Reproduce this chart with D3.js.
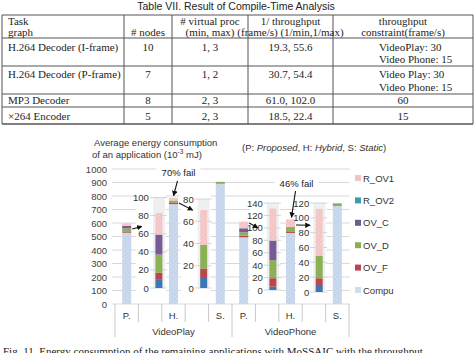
<!DOCTYPE html>
<html>
<head>
<meta charset="utf-8">
<script src="https://cdn.jsdelivr.net/npm/d3@7"></script>
<style>
  body { margin: 0; background: #fff; }
  svg { display: block; }
</style>
</head>
<body>
<svg id="fig" width="474" height="353"></svg>
<script>
// ---- table data ----
const tableTitle = "Table VII. Result of Compile-Time Analysis";
const tableHead = [["Task", "graph"], ["", "# nodes"], ["# virtual proc", "(min, max)"],
                   ["1/ throughput", "(frame/s) (1/min,1/max)"], ["throughput", "constraint(frame/s)"]];
const taskGraphs = ["H.264 Decoder (I-frame)", "H.264 Decoder (P-frame)", "MP3 Decoder", "\u00d7264 Encoder"];
const nodeCounts = ["10", "7", "8", "5"];
const virtualProcs = ["1, 3", "1, 2", "2, 3", "2, 3"];
const invThroughput = ["19.3, 55.6", "30.7, 54.4", "61.0, 102.0", "18.5, 22.4"];
const constraints = [["VideoPlay: 30", "Video Phone: 15"], ["Video Play: 30", "Video Phone: 15"], ["60"], ["15"]];

// ---- chart data ----
const apps = ["VideoPlay", "VideoPhone"];
const slots = ["P.", "", "H.", "", "S.", "P.", "", "H.", "", "S."];
const seriesKeys = ["Compu", "OV_F", "OV_D", "OV_C", "R_OV2", "R_OV1"];
const legendKeys = ["R_OV1", "R_OV2", "OV_C", "OV_D", "OV_F", "Compu"];
const yTicks = d3.range(0, 1001, 100);

// main bars (P., H., S. of each application)
const barSlots = [0, 2, 4, 5, 7, 9];
const compu = [528, 740, 890, 494, 526, 726];
const ovF   = [10, 12, 0, 12, 7, 0];
const ovD   = [23, 15, 15, 25, 37, 20];
const ovC   = [19, 0, 0, 30, 0, 0];
const rOv2  = [0, 0, 0, 0, 0, 0];
const rOv1  = [18, 20, 0, 49, 57, 0];

// zoomed overhead insets
const insetSlots = [1, 3, 6, 8];
const insetMax   = [100, 80, 140, 120];
const insetROv2  = [9, 9, 5.5, 9.5];
const insetOvF   = [8, 8.5, 13.5, 9];
const insetOvD   = [20, 21.5, 29, 30];
const insetOvC   = [22, 0, 31.5, 0];
const insetROv1  = [24, 31, 51.5, 63.5];

// annotations
const failLabels = ["70% fail", "46% fail"];
const failSlots = [2, 7];
const arrowFromBar = [0, 1, 3, 4];          // index into main bars
const arrowFromVal = [556, 748, 600, 585];  // main scale
const arrowToVal   = [68, 70, 100, 90];     // inset scale

const colors = {
  Compu: "url(#hBlue)", OV_F: "#b9474b", OV_D: "#8cb055", OV_C: "#765b97",
  R_OV2: "#3d75b6", R_OV1: "url(#hPink)"
};
const legendColors = {
  R_OV1: "#f1c3c3", R_OV2: "#37a0a6", OV_C: "#6f5a92", OV_D: "#8cad56", OV_F: "#b8474b", Compu: "#cfdcec"
};

const svg = d3.select("#fig");
const defs = svg.append("defs");

function hatch(id, base, line) {
  const p = defs.append("pattern").attr("id", id)
    .attr("width", 3).attr("height", 3)
    .attr("patternUnits", "userSpaceOnUse")
    .attr("patternTransform", "rotate(45)");
  p.append("rect").attr("width", 3).attr("height", 3).attr("fill", base);
  p.append("line").attr("x1", 0).attr("y1", 0).attr("x2", 0).attr("y2", 3)
    .attr("stroke", line).attr("stroke-width", 1);
}
hatch("hBlue", "#c4d4ea", "#dde6f3");
hatch("hPink", "#f3c3c3", "#fbdede");

defs.append("marker").attr("id", "arr")
  .attr("viewBox", "0 0 10 10").attr("refX", 9).attr("refY", 5)
  .attr("markerWidth", 5).attr("markerHeight", 5).attr("orient", "auto")
  .append("path").attr("d", "M0,0L10,5L0,10z").attr("fill", "#111");

// ================= table =================
const colX = [2, 124, 172, 248, 333, 473];
const rowY = [15, 38, 66, 94, 107, 124];
const sans = '"Liberation Sans", Arial, sans-serif';

svg.append("text").attr("x", 236).attr("y", 10)
  .attr("text-anchor", "middle").attr("font-family", sans)
  .attr("font-size", 10.5).attr("fill", "#222").text(tableTitle);

const tbl = svg.append("g")
  .attr("font-family", '"Liberation Serif", "Times New Roman", serif')
  .attr("font-size", 11).attr("fill", "#1e1e1e");

tbl.selectAll("line.h").data(rowY).join("line")
  .attr("x1", colX[0]).attr("x2", colX[5])
  .attr("y1", d => d).attr("y2", d => d)
  .attr("stroke", "#555").attr("stroke-width", (d, i) => i === rowY.length - 1 ? 1.5 : 1);
tbl.selectAll("line.v").data(colX).join("line")
  .attr("x1", d => d).attr("x2", d => d)
  .attr("y1", rowY[0]).attr("y2", rowY[rowY.length - 1])
  .attr("stroke", "#555");

const colMid = d3.range(5).map(i => (colX[i] + colX[i + 1]) / 2);
tableHead.forEach((lines, c) => {
  lines.forEach((t, k) => {
    tbl.append("text")
      .attr("x", c === 0 ? 8 : colMid[c])
      .attr("y", 25 + k * 11)
      .attr("text-anchor", c === 0 ? "start" : "middle")
      .text(t);
  });
});

const rowBase = [[51, 63], [78, 91], [104], [120]];
taskGraphs.forEach((t, r) => {
  const b = rowBase[r][0];
  tbl.append("text").attr("x", 8).attr("y", b).text(t);
  tbl.append("text").attr("x", colMid[1]).attr("y", b).attr("text-anchor", "middle").text(nodeCounts[r]);
  tbl.append("text").attr("x", colMid[2]).attr("y", b).attr("text-anchor", "middle").text(virtualProcs[r]);
  tbl.append("text").attr("x", colMid[3]).attr("y", b).attr("text-anchor", "middle").text(invThroughput[r]);
  constraints[r].forEach((c, k) => {
    const multi = constraints[r].length > 1;
    tbl.append("text")
      .attr("x", multi ? 379 : colMid[4])
      .attr("y", rowBase[r][k])
      .attr("text-anchor", multi ? "start" : "middle")
      .text(c);
  });
});

// ================= chart =================
const x = d3.scaleBand().domain(d3.range(slots.length)).range([115, 349]);
const y = d3.scaleLinear().domain([0, 1000]).range([304, 169]);
const barW = 9;
const chart = svg.append("g").attr("font-family", sans);

// titles
chart.append("text").attr("x", 94).attr("y", 146)
  .attr("font-size", 9.5).attr("fill", "#333").text("Average energy consumption");
const t2 = chart.append("text").attr("x", 92).attr("y", 158)
  .attr("font-size", 9.5).attr("fill", "#333");
t2.append("tspan").text("of an application (10");
t2.append("tspan").attr("dy", -4).attr("font-size", 6.5).text("-3");
t2.append("tspan").attr("dy", 4).text(" mJ)");

const sub = chart.append("text").attr("x", 242).attr("y", 151)
  .attr("font-size", 9.5).attr("fill", "#333");
[["(P: ", false], ["Proposed", true], [", H: ", false], ["Hybrid", true],
 [", S: ", false], ["Static", true], [")", false]].forEach(([s, it]) => {
  sub.append("tspan").attr("font-style", it ? "italic" : "normal").text(s);
});

// gridlines
chart.append("g").selectAll("line").data(yTicks).join("line")
  .attr("x1", 112).attr("x2", 350)
  .attr("y1", d => y(d)).attr("y2", d => y(d))
  .attr("stroke", "#d9d9d9");

// y axis labels
const yAxis = chart.append("g").attr("transform", "translate(109,0)")
  .call(d3.axisLeft(y).tickValues(yTicks).tickFormat(d3.format("d")).tickSize(0).tickPadding(2));
yAxis.select(".domain").remove();
yAxis.selectAll("text").attr("font-size", 9.5).attr("fill", "#404040").attr("font-family", sans);

// category axis
const step = x.step();
chart.append("g").selectAll("line").data(d3.range(slots.length + 1)).join("line")
  .attr("x1", i => 115 + i * step).attr("x2", i => 115 + i * step)
  .attr("y1", 304).attr("y2", i => i % 5 === 0 ? 337 : 322)
  .attr("stroke", "#c8c8c8");
chart.append("g").selectAll("text").data(slots).join("text")
  .attr("x", (d, i) => x(i) + x.bandwidth() / 2).attr("y", 319)
  .attr("text-anchor", "middle").attr("font-size", 9.5).attr("fill", "#333")
  .text(d => d);
chart.append("g").selectAll("text").data(apps).join("text")
  .attr("x", (d, i) => x(i * 5) + step * 2.5).attr("y", 335)
  .attr("text-anchor", "middle").attr("font-size", 9.5).attr("fill", "#333")
  .text(d => d);

// stacked main bars
const mainRows = barSlots.map((s, i) => ({
  slot: s, Compu: compu[i], OV_F: ovF[i], OV_D: ovD[i], OV_C: ovC[i], R_OV2: rOv2[i], R_OV1: rOv1[i]
}));
const mainStack = d3.stack().keys(seriesKeys)(mainRows);
const barX = s => x(s) + (x.bandwidth() - barW) / 2;
chart.append("g").selectAll("g").data(mainStack).join("g")
  .attr("fill", d => colors[d.key])
  .selectAll("rect").data(d => d).join("rect")
  .attr("x", d => barX(d.data.slot)).attr("width", barW)
  .attr("y", d => y(d[1])).attr("height", d => y(d[0]) - y(d[1]));

// insets
const insetKeys = ["R_OV2", "OV_F", "OV_D", "OV_C", "R_OV1"];
const insetTopY = [197.5, 199, 203, 203];
const insetBotY = [288, 288, 290, 292];
const insetOffset = [14.5, 12.5, 11.5, 11];
const insetW = 12, insetBarW = 7;
const insetScales = [];
insetSlots.forEach((s, j) => {
  const g = chart.append("g");
  const x0 = x(s) + insetOffset[j];
  const yi = d3.scaleLinear().domain([0, insetMax[j]]).range([insetBotY[j], insetTopY[j]]);
  insetScales.push({ x0, yi });
  const ticks = d3.range(0, insetMax[j] + 1, 20);
  g.append("rect").attr("x", x0 - 17).attr("y", insetTopY[j] - 6)
    .attr("width", insetW + 18).attr("height", insetBotY[j] - insetTopY[j] + 12)
    .attr("fill", "#fff");
  g.append("rect").attr("x", x0).attr("y", insetTopY[j])
    .attr("width", insetW).attr("height", insetBotY[j] - insetTopY[j])
    .attr("fill", "#efefef");
  g.selectAll("line").data(ticks).join("line")
    .attr("x1", x0 - 3).attr("x2", x0 + insetW + 2)
    .attr("y1", d => yi(d)).attr("y2", d => yi(d))
    .attr("stroke", "#d4d4d4");
  g.selectAll("text").data(ticks).join("text")
    .attr("x", x0 - 4).attr("y", d => yi(d) + 3.5)
    .attr("text-anchor", "end").attr("font-size", 9.5).attr("fill", "#333")
    .text(d => d);
  const row = { R_OV2: insetROv2[j], OV_F: insetOvF[j], OV_D: insetOvD[j], OV_C: insetOvC[j], R_OV1: insetROv1[j] };
  const st = d3.stack().keys(insetKeys)([row]);
  g.selectAll("rect.seg").data(st).join("rect").attr("class", "seg")
    .attr("fill", d => colors[d.key])
    .attr("x", x0 + (insetW - insetBarW) / 2).attr("width", insetBarW)
    .attr("y", d => yi(d[0][1])).attr("height", d => yi(d[0][0]) - yi(d[0][1]));
});

// arrows from main bars to insets
const arrowEndDx = [-11, -5, -9, -3];
arrowFromBar.forEach((b, k) => {
  const s = barSlots[b];
  const { x0, yi } = insetScales[k];
  chart.append("line")
    .attr("x1", barX(s) + barW + 1).attr("y1", y(arrowFromVal[k]))
    .attr("x2", x0 + arrowEndDx[k]).attr("y2", yi(arrowToVal[k]))
    .attr("stroke", "#111").attr("stroke-width", 1.1).attr("marker-end", "url(#arr)");
});

// fail labels
const failVal = [972, 896];
const failDx = [5, 6];
failLabels.forEach((t, k) => {
  const s = failSlots[k];
  const cx = x(s) + x.bandwidth() / 2 + failDx[k];
  const cy = y(failVal[k]);
  chart.append("rect").attr("x", cx - 22).attr("y", cy - 7).attr("width", 44).attr("height", 14).attr("fill", "#fff");
  chart.append("text").attr("x", cx).attr("y", cy + 3.5).attr("text-anchor", "middle")
    .attr("font-size", 9.5).attr("fill", "#222").text(t);
  const bi = barSlots.indexOf(s);
  const top = compu[bi] + ovF[bi] + ovD[bi] + ovC[bi] + rOv2[bi] + rOv1[bi];
  chart.append("line")
    .attr("x1", cx - 1).attr("y1", cy + 8)
    .attr("x2", cx - 5).attr("y2", y(top) - 2)
    .attr("stroke", "#111").attr("stroke-width", 1.1).attr("marker-end", "url(#arr)");
});

// legend
const legend = chart.append("g").selectAll("g").data(legendKeys).join("g")
  .attr("transform", (d, i) => `translate(355,${178 + i * 22.4})`);
legend.append("rect").attr("x", 0).attr("y", -3).attr("width", 6).attr("height", 6)
  .attr("fill", d => legendColors[d]);
legend.append("text").attr("x", 8).attr("y", 3.5)
  .attr("font-size", 9.5).attr("fill", "#333").text(d => d);

// caption (cut off by the bottom edge, as in the source page)
svg.append("text").attr("x", 3).attr("y", 355)
  .attr("font-family", '"Liberation Serif", serif').attr("font-size", 11).attr("fill", "#222")
  .text("Fig. 11.  Energy consumption of the remaining applications with MoSSAIC with the throughput");
</script>
</body>
</html>
